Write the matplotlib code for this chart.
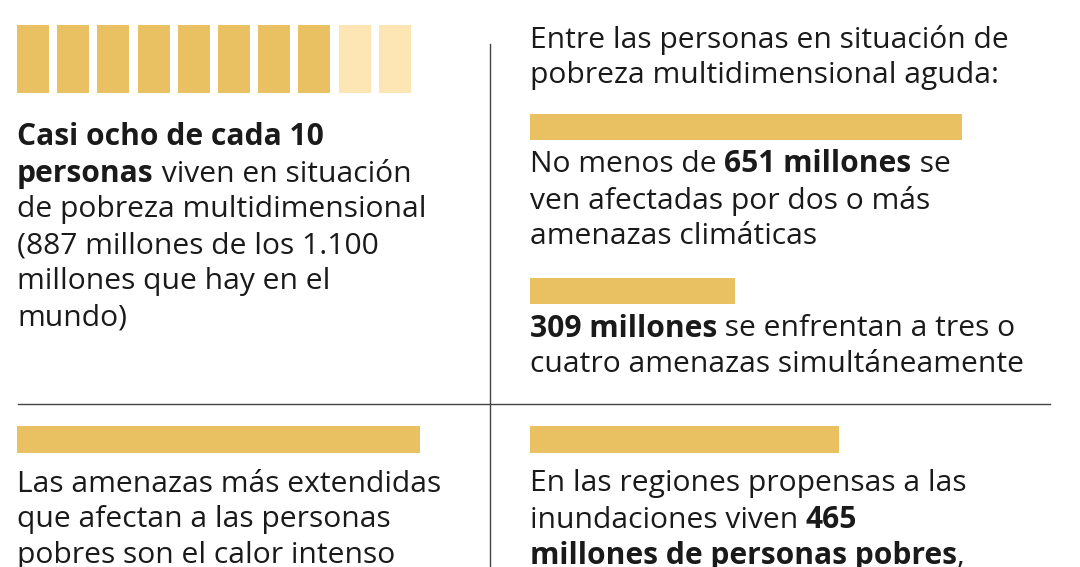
import matplotlib
matplotlib.use("Agg")
import matplotlib.pyplot as plt
from matplotlib.patches import Rectangle

# data
poor_share_tens = 8          # casi ocho de cada 10
total_icons = 10
bar_values = {"dos_o_mas": 651, "tres_o_cuatro": 309, "calor": 608, "inundaciones": 465}

DARK = "#EAC162"
LIGHT = "#FDE6B3"
TXT = "#1a1a1a"
FONT = "Open Sans"
FS = 21.6

fig = plt.figure(figsize=(10.8, 5.67), dpi=100)
ax = fig.add_axes([0, 0, 1, 1])
ax.set_xlim(0, 1080)
ax.set_ylim(567, 0)
ax.axis("off")
renderer = fig.canvas.get_renderer()

# icons
w, step = 32, 40.2
for i in range(total_icons):
    ax.add_patch(Rectangle((17 + i * step, 25), w, 68, color=DARK if i < poor_share_tens else LIGHT, lw=0))

px_per_m = 432 / 651
def bar(x, y, v, h=27):
    ax.add_patch(Rectangle((x, y), v * px_per_m, h, color=DARK, lw=0))

bar(530, 114, bar_values["dos_o_mas"], 26)
bar(530, 278, bar_values["tres_o_cuatro"], 26)
bar(17, 426, bar_values["calor"])
bar(530, 426, bar_values["inundaciones"])

ax.plot([490, 490], [44, 567], color="#444444", lw=1)
ax.plot([18, 1050], [404, 404], color="#444444", lw=1)

inv = ax.transData.inverted()
def rich(x, y, segs):
    for s, bold in segs:
        t = ax.text(x, y, s, fontsize=FS, family=FONT, color=TXT, va="center",
                    fontweight="bold" if bold else "normal")
        bb = t.get_window_extent(renderer)
        x0 = inv.transform((bb.x0, 0))[0]
        x1 = inv.transform((bb.x1, 0))[0]
        x += x1 - x0

L = 17
lines = [
    (L, 137, [("Casi ocho de cada 10", True)]),
    (L, 174, [("personas", True), (" viven en situación", False)]),
    (L, 210, [("de pobreza multidimensional", False)]),
    (L, 246, [("(887 millones de los 1.100", False)]),
    (L, 282, [("millones que hay en el", False)]),
    (L, 318, [("mundo)", False)]),
    (530, 40, [("Entre las personas en situación de", False)]),
    (530, 76, [("pobreza multidimensional aguda:", False)]),
    (530, 164, [("No menos de ", False), ("651 millones", True), (" se", False)]),
    (530, 201, [("ven afectadas por dos o más", False)]),
    (530, 237, [("amenazas climáticas", False)]),
    (530, 329, [("309 millones", True), (" se enfrentan a tres o", False)]),
    (530, 365, [("cuatro amenazas simultáneamente", False)]),
    (L, 484, [("Las amenazas más extendidas", False)]),
    (L, 520, [("que afectan a las personas", False)]),
    (L, 556, [("pobres son el calor intenso", False)]),
    (530, 484, [("En las regiones propensas a las", False)]),
    (530, 520, [("inundaciones viven ", False), ("465", True)]),
    (530, 556, [("millones de personas pobres", True), (",", False)]),
]
for x, y, segs in lines:
    rich(x, y, segs)

fig.savefig("out.png", dpi=100)
